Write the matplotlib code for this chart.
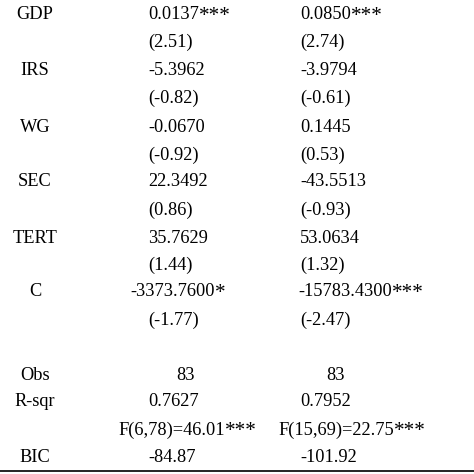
import matplotlib
matplotlib.use("Agg")
import matplotlib.pyplot as plt

row_labels = ["GDP", "", "IRS", "", "WG", "", "SEC", "", "TERT", "", "C", "", "", "Obs", "R-sqr", "", "BIC"]
model1 = ["0.0137***", "(2.51)", "-5.3962", "(-0.82)", "-0.0670", "(-0.92)", "22.3492", "(0.86)",
          "35.7629", "(1.44)", "-3373.7600*", "(-1.77)", "", "83", "0.7627", "F(6,78)=46.01***", "-84.87"]
model2 = ["0.0850***", "(2.74)", "-3.9794", "(-0.61)", "0.1445", "(0.53)", "-43.5513", "(-0.93)",
          "53.0634", "(1.32)", "-15783.4300***", "(-2.47)", "", "83", "0.7952", "F(15,69)=22.75***", "-101.92"]

W = H = 474
fig = plt.figure(figsize=(4.74, 4.74), dpi=100)
ax = fig.add_axes([0, 0, 1, 1])
ax.set_xlim(0, W); ax.set_ylim(H, 0); ax.axis("off")

ys = [14, 42, 70, 98, 127, 155, 182, 210, 238, 265, 292, 320, 348, 375, 402, 430, 458]
x1 = {"-3373.7600*": 130, "83": 176, "F(6,78)=46.01***": 118}
x2 = {"-15783.4300***": 298, "83": 326, "F(15,69)=22.75***": 278}
fs = 13.2
kw = dict(family="Liberation Serif", fontsize=fs, va="center", color="black")
for y, lab, a, b in zip(ys, row_labels, model1, model2):
    if lab:
        ax.text(35, y, lab, ha="center", **kw)
    for val, xmap, x0 in ((a, x1, 148), (b, x2, 300)):
        if not val:
            continue
        core = val.rstrip("*")
        stars = val[len(core):]
        t = ax.text(xmap.get(val, x0), y, core, ha="left", **kw)
        if stars:
            fig.canvas.draw()
            bb = t.get_window_extent()
            xe = ax.transData.inverted().transform((bb.x1, bb.y0))[0]
            ax.text(xe, y + 2, stars, ha="left", family="Liberation Serif",
                    fontsize=fs * 1.15, va="center", color="black")
ax.plot([0, W], [471, 471], color="black", lw=1.2)
fig.savefig("out.png", dpi=100, facecolor="white")
